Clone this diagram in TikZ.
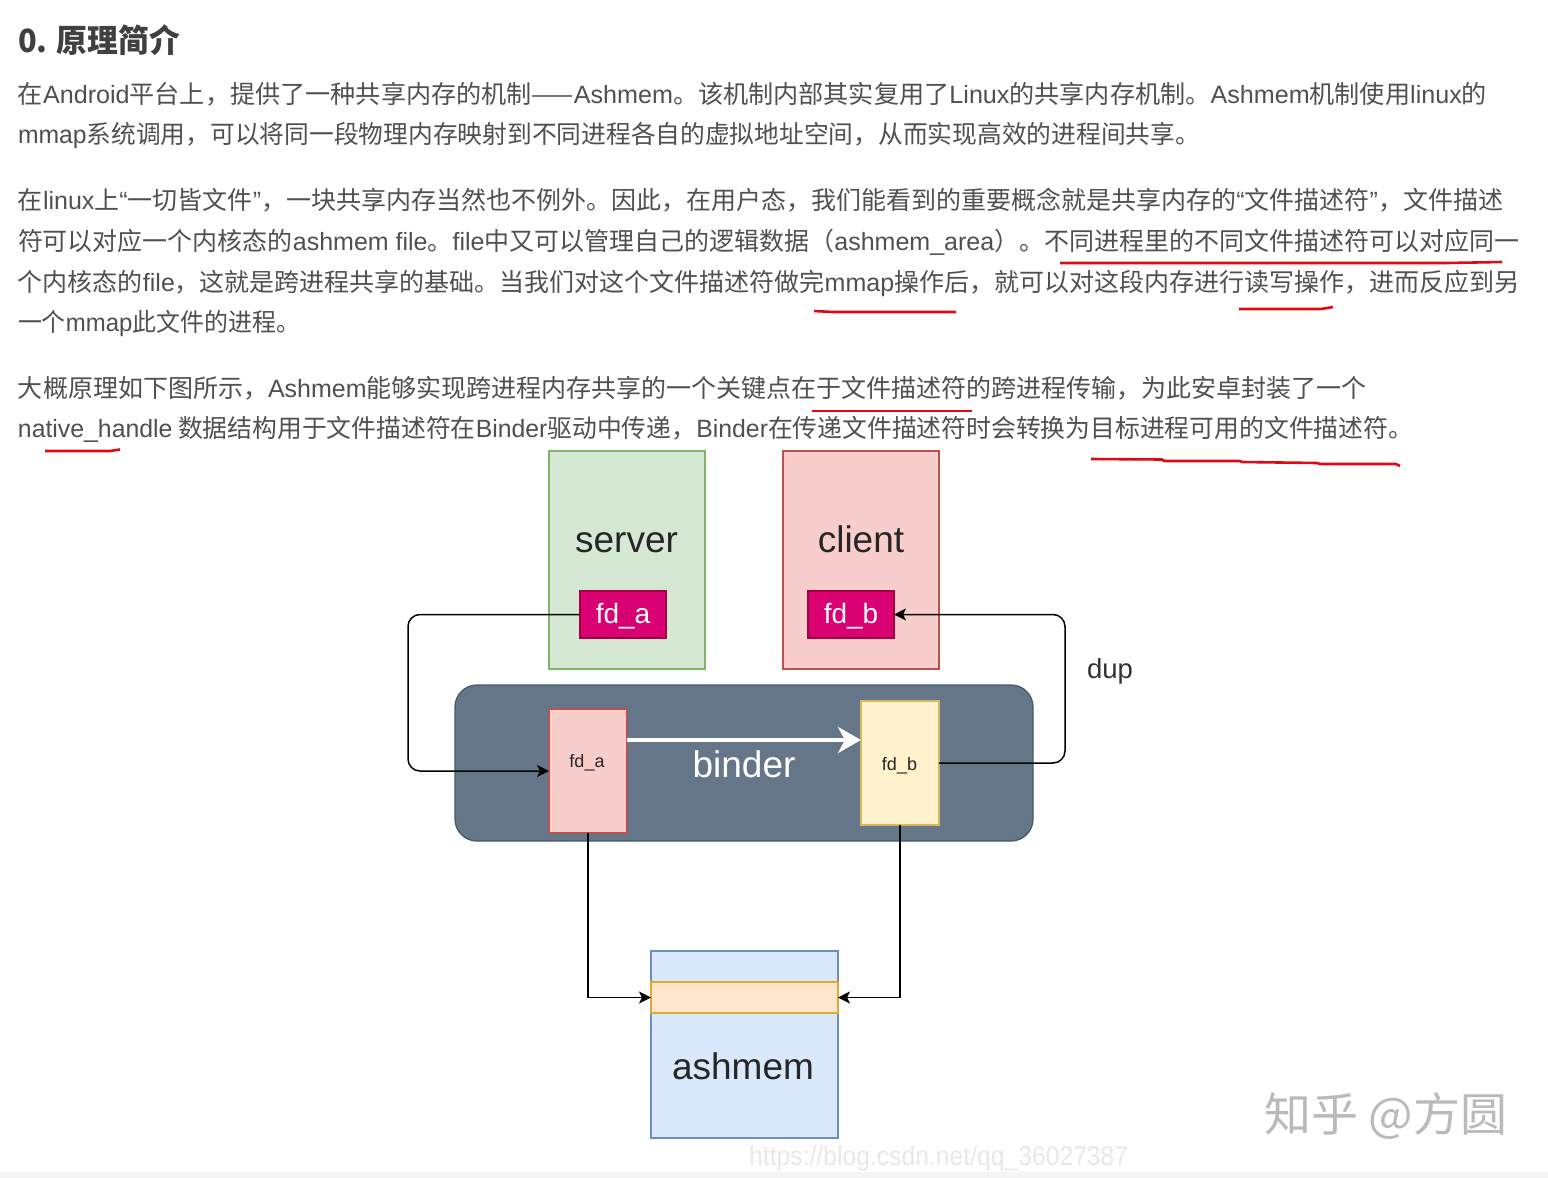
\documentclass[tikz,border=0pt]{standalone}
\usepackage{fontspec}
\usepackage{graphicx}
\setmainfont{Noto Sans CJK SC}
\newfontfamily\lat{Liberation Sans}
\usetikzlibrary{arrows.meta}
\definecolor{bodytxt}{HTML}{505050}
\definecolor{headtxt}{HTML}{404040}
\definecolor{redline}{HTML}{DD0A14}
\definecolor{greenfill}{HTML}{D5E8D4}
\definecolor{greenedge}{HTML}{82B366}
\definecolor{redfill}{HTML}{F8CECC}
\definecolor{rededge}{HTML}{B85450}
\definecolor{yellowfill}{HTML}{FFF2CC}
\definecolor{yellowedge}{HTML}{D6B656}
\definecolor{bluefill}{HTML}{DAE8FC}
\definecolor{blueedge}{HTML}{6C8EBF}
\definecolor{orangefill}{HTML}{FFE6CC}
\definecolor{orangeedge}{HTML}{DEAA32}
\definecolor{fdfill}{HTML}{D80073}
\definecolor{fdedge}{HTML}{A50040}
\definecolor{binderfill}{HTML}{647687}
\definecolor{binderedge}{HTML}{465A69}
\newcommand{\px}[1]{\fontsize{#1}{#1}\selectfont}
\newcommand{\tline}[4]{\node[textline] (#1) at (18,#2) {\resizebox{#3pt}{\height}{#4}};}
\tikzset{
  textline/.style={anchor=base west,inner sep=0pt,outer sep=0pt,text=bodytxt,font=\px{25}},
  boxbase/.style={draw,line width=1.3pt,inner sep=0pt,outer sep=0pt},
  greenbox/.style={boxbase,fill=greenfill,draw=greenedge},
  redbox/.style={boxbase,fill=redfill,draw=rededge},
  yellowbox/.style={boxbase,fill=yellowfill,draw=yellowedge},
  bluebox/.style={boxbase,fill=bluefill,draw=blueedge},
  orangebox/.style={boxbase,line width=1.8pt,fill=orangefill,draw=orangeedge},
  fdbox/.style={boxbase,fill=fdfill,draw=fdedge,text=white,font=\lat\px{28},text height=17pt,text depth=0pt},
  binderbox/.style={boxbase,rounded corners=22pt,fill=binderfill,draw=binderedge},
  biglabel/.style={anchor=base,inner sep=0pt,font=\lat\px{37},text=black!85},
  smalllabel/.style={anchor=base,inner sep=0pt,font=\lat\px{18},text=black!85},
  conn/.style={draw=black,line width=1.5pt,rounded corners=12pt,-{Stealth[length=12pt,width=12pt,inset=3pt]}},
  straightconn/.style={draw=black,line width=1.5pt,-{Stealth[length=12pt,width=12pt,inset=3pt]}},
  whitearrow/.style={draw=white,line width=4pt,-{Stealth[length=23pt,width=26pt,inset=7pt]}},
  redmark/.style={draw=redline,line width=2.6pt,line join=round}
}
\begin{document}
\begin{tikzpicture}[x=1pt,y=-1pt]
\useasboundingbox (0,0) rectangle (1548,1178);
\fill[white] (0,0) rectangle (1548,1178);
\fill[black!4] (0,1172) rectangle (1548,1178);

% text
\node[textline,text=headtxt,font=\bfseries\px{32}] (head) at (18,52) {\resizebox{162pt}{\height}{0. 原理简介}};
\tline{l1}{103}{1469}{在{\lat Android}平台上，提供了一种共享内存的机制——{\lat Ashmem}。该机制内部其实复用了{\lat Linux}的共享内存机制。{\lat Ashmem}机制使用{\lat linux}的}
\tline{l2}{143}{1182}{{\lat mmap}系统调用，可以将同一段物理内存映射到不同进程各自的虚拟地址空间，从而实现高效的进程间共享。}
\tline{l3}{209}{1485}{在{\lat linux}上{\lat “}一切皆文件{\lat ”}，一块共享内存当然也不例外。因此，在用户态，我们能看到的重要概念就是共享内存的{\lat “}文件描述符{\lat ”}，文件描述}
\tline{l4}{250}{1501}{符可以对应一个内核态的{\lat ashmem file}。{\lat file}中又可以管理自己的逻辑数据（{\lat ashmem\_area}）。不同进程里的不同文件描述符可以对应同一}
\tline{l5}{291}{1501}{个内核态的{\lat file}，这就是跨进程共享的基础。当我们对这个文件描述符做完{\lat mmap}操作后，就可以对这段内存进行读写操作，进而反应到另}
\tline{l6}{331}{282}{一个{\lat mmap}此文件的进程。}
\tline{l7}{397}{1349}{大概原理如下图所示，{\lat Ashmem}能够实现跨进程内存共享的一个关键点在于文件描述符的跨进程传输，为此安卓封装了一个}
\tline{l8}{437}{1395}{{\lat native\_handle} 数据结构用于文件描述符在{\lat Binder}驱动中传递，{\lat Binder}在传递文件描述符时会转换为目标进程可用的文件描述符。}

% red underlines
\draw[redmark] (1060,263) -- (1447,263) -- (1502,262);
\draw[redmark] (814,311) -- (833,312) -- (956,312);
\draw[redmark] (1239,309) -- (1321,309) -- (1333,307);
\draw[redmark] (812,411) -- (972,411);
\draw[redmark] (45,451) -- (110,451) -- (120,449.5);
\draw[redmark] (1091,459) -- (1162,459.5) -- (1164.5,461) -- (1240,461) -- (1242,462) -- (1317,463) -- (1320,464) -- (1396,464) -- (1400,466);

% diagram boxes
\node[greenbox,minimum width=156pt,minimum height=218pt] (server) at (627,560) {};
\node[redbox,minimum width=156pt,minimum height=218pt] (client) at (861,560) {};
\node[biglabel] (serverlabel) at (626.5,552) {server};
\node[biglabel] (clientlabel) at (861,552) {client};
\node[fdbox,minimum width=86pt,minimum height=47pt] (fda) at (623,614.5) {fd\_a};
\node[fdbox,minimum width=86pt,minimum height=47pt] (fdb) at (851,614.5) {fd\_b};
\node[binderbox,minimum width=578pt,minimum height=156pt] (binder) at (744,763) {};
\node[redbox,minimum width=78pt,minimum height=124pt] (ifda) at (588,771) {};
\node[yellowbox,minimum width=78pt,minimum height=124pt] (ifdb) at (900,763) {};
\node[smalllabel] (ifdalabel) at (587,767) {fd\_a};
\node[smalllabel] (ifdblabel) at (899.5,770) {fd\_b};
\node[biglabel,text=white] (binderlabel) at (744,777) {binder};
\node[bluebox,minimum width=187pt,minimum height=187pt] (ashmem) at (744.5,1044.5) {};
\node[orangebox,minimum width=187pt,minimum height=31pt] (band) at (744.5,997.5) {};
\node[biglabel] (ashmemlabel) at (743,1079) {ashmem};
\node[anchor=base,inner sep=0pt,font=\lat\px{27.5},text=black!80] (dup) at (1110,678) {dup};

% connectors
\coordinate (loopleft) at (408,700);
\coordinate (loopright) at (1065,700);
\coordinate (wstart) at (ifda.east |- 0,740);
\coordinate (wend) at (ifdb.west |- 0,740);
\draw[conn] (fda.west) -| (loopleft) |- (ifda.west);
\draw[conn] (ifdb.east) -| (loopright) |- (fdb.east);
\draw[straightconn] (ifda.south) |- (band.west);
\draw[straightconn] (ifdb.south) |- (band.east);
\draw[whitearrow] (wstart) -- (wend);

% watermarks
\node[anchor=base west,inner sep=0pt,font=\px{46},text=black!27] (zhihu) at (1264,1131) {\resizebox{243pt}{\height}{知乎 @方圆}};
\node[anchor=base west,inner sep=0pt,font=\lat\px{27},text=black!9] (csdn) at (749,1165) {\resizebox{379pt}{\height}{https://blog.csdn.net/qq\_36027387}};
\end{tikzpicture}
\end{document}
